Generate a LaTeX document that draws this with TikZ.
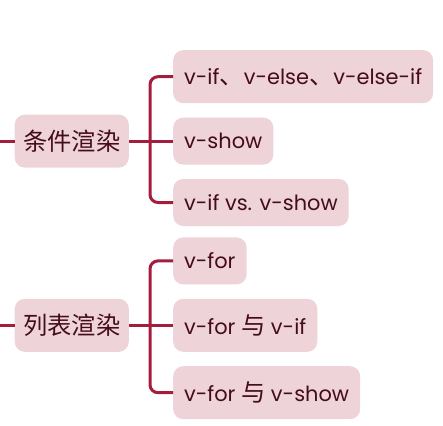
\documentclass[tikz,border=0pt]{standalone}
\usepackage{fontspec}
\setmainfont{Poppins}
\newfontfamily\cjk[Scale=1.16]{Noto Sans CJK SC}
\usetikzlibrary{positioning}
\definecolor{boxfill}{HTML}{EED3D8}
\definecolor{boxtext}{HTML}{440C1C}
\definecolor{linkred}{HTML}{A51D3D}

\begin{document}
\begin{tikzpicture}[
  x=1bp, y=-1bp,
  every node/.style={font=\fontsize{21}{24}\selectfont, text=boxtext},
  topic/.style={fill=boxfill, rounded corners=10bp, inner xsep=11bp, minimum height=53bp},
  root/.style={topic, inner xsep=8.5bp},
  leaf/.style={topic, minimum height=47bp},
  leafcjk/.style={topic},
  link/.style={draw=linkred, line width=3bp},
  node distance=14bp
]
  \useasboundingbox (0,0) rectangle (443,425);
  % first group
  \node[leafcjk, anchor=north west] (a1) at (173,50) {v-if{\cjk 、}v-else{\cjk 、}v-else-if};
  \node[leaf, below=of a1.south west, anchor=north west] (a2) {v-show};
  \node[leaf, below=of a2.south west, anchor=north west] (a3) {v-if vs. v-show};
  \node[root, left=44bp of a2] (c1) {\cjk 条件渲染};
  % second group
  \node[leaf, below=11bp of a3.south west, anchor=north west] (b1) {v-for};
  \node[leafcjk, below=of b1.south west, anchor=north west] (b2) {v-for {\cjk 与} v-if};
  \node[leafcjk, below=of b2.south west, anchor=north west] (b3) {v-for {\cjk 与} v-show};
  \node[root, left=44bp of b2] (c2) {\cjk 列表渲染};
  % connectors
  \coordinate (s1) at (0,0 |- c1);
  \coordinate (s2) at (0,0 |- c2);
  \coordinate[right=21bp of c1.east] (j1);
  \coordinate[right=21bp of c2.east] (j2);
  \draw[link] (s1) -- (c1);
  \draw[link] (s2) -- (c2);
  \draw[link] (c1) -- (a2);
  \draw[link] (c2) -- (b2);
  \draw[link, rounded corners=8bp] (j1) |- (a1.west) (j1) |- (a3.west);
  \draw[link, rounded corners=8bp] (j2) |- (b1.west) (j2) |- (b3.west);
\end{tikzpicture}
\end{document}
